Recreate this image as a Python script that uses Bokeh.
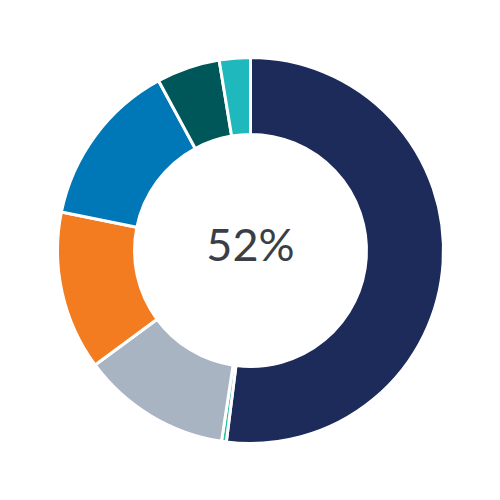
from math import pi

from bokeh.plotting import figure
from bokeh.models import Range1d, ColumnDataSource
from bokeh.core.properties import value
from bokeh.embed import file_html
from bokeh.resources import INLINE

# slices, clockwise from 12 o'clock
categories = ["A", "B", "C", "D", "E", "F", "G"]
shares = [52.0, 0.4, 12.5, 13.3, 13.9, 5.3, 2.6]
colors = ["#1c2b5a", "#2bbfa8", "#a9b4c3", "#f47c20", "#0077b6", "#00575a", "#1fb8bd"]
center_label = "52%"

total = sum(shares)
starts, ends = [], []
cum = 0.0
for s in shares:
    a0 = pi / 2 - 2 * pi * cum / total
    cum += s
    a1 = pi / 2 - 2 * pi * cum / total
    starts.append(a1)
    ends.append(a0)

src = ColumnDataSource(dict(cat=categories, share=shares, color=colors,
                            start=starts, end=ends))

# range offset so the ring sits at the middle of the 500px shot
p = figure(width=484, height=484, output_backend="svg", toolbar_location=None,
           x_range=Range1d(-250, 234), y_range=Range1d(-234, 250),
           min_border=0)
p.axis.visible = False
p.grid.visible = False
p.outline_line_color = None

p.annular_wedge(x=0, y=0, inner_radius=116, outer_radius=193,
                start_angle="start", end_angle="end", fill_color="color",
                line_color="white", line_width=3, source=src)

p.text(x=[0], y=[7], text=[center_label], text_align="center",
       text_baseline="middle", text_font=value("Lato"),
       text_font_size="45px", text_color="#3a3f47")

open("out.html", "w").write(file_html(p, INLINE))
